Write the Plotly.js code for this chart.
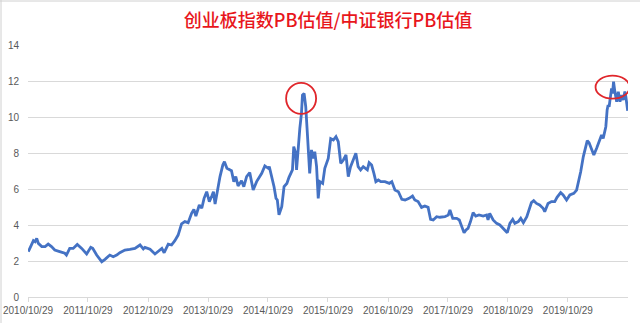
<!DOCTYPE html>
<html><head><meta charset="utf-8">
<script src="https://cdn.plot.ly/plotly-3.0.1.min.js"></script>
<style>html,body{margin:0;padding:0;background:#fff;}#chart{width:640px;height:323px;}</style>
</head><body><div id="chart"></div>
<script>
const chartTitle = "创业板指数PB估值/中证银行PB估值";
const dates = [
"2010-10-31","2010-11-21","2010-12-01","2010-12-11","2010-12-21","2010-12-31","2011-01-21","2011-02-10","2011-03-01","2011-03-21",
"2011-04-10","2011-05-10","2011-06-10","2011-06-20","2011-07-10","2011-07-31","2011-08-25","2011-09-21","2011-10-21","2011-11-15",
"2011-11-27","2011-12-21","2012-01-21","2012-02-10","2012-03-10","2012-03-31","2012-04-21","2012-05-10","2012-06-10","2012-07-10",
"2012-08-10","2012-09-10","2012-09-30","2012-10-10","2012-11-10","2012-12-10","2012-12-31","2013-01-21","2013-02-04","2013-03-01",
"2013-03-21","2013-04-10","2013-04-30","2013-05-21","2013-06-10","2013-06-30","2013-07-21","2013-08-04","2013-08-16","2013-09-06",
"2013-09-21","2013-10-05","2013-10-21","2013-11-06","2013-11-21","2013-12-01","2013-12-11","2013-12-25","2014-01-10","2014-01-27",
"2014-02-06","2014-02-21","2014-03-10","2014-03-21","2014-04-04","2014-04-16","2014-04-30","2014-05-21","2014-06-04","2014-06-21",
"2014-07-10","2014-07-31","2014-08-21","2014-09-21","2014-10-10","2014-10-31","2014-11-06","2014-11-21","2014-12-05","2014-12-17",
"2014-12-25","2015-01-04","2015-01-21","2015-02-04","2015-02-21","2015-03-06","2015-03-17","2015-03-27","2015-04-04","2015-04-16",
"2015-04-21","2015-05-01","2015-05-11","2015-05-21","2015-05-27","2015-06-06","2015-06-16","2015-06-27","2015-07-10","2015-07-21",
"2015-07-31","2015-08-10","2015-08-21","2015-08-31","2015-09-10","2015-09-27","2015-10-10","2015-10-31","2015-11-15","2015-12-01",
"2015-12-17","2015-12-31","2016-01-15","2016-01-31","2016-02-16","2016-03-01","2016-03-15","2016-03-31","2016-04-16","2016-04-30",
"2016-05-15","2016-05-31","2016-06-16","2016-06-25","2016-07-06","2016-07-21","2016-08-04","2016-08-16","2016-08-31","2016-09-15",
"2016-10-10","2016-11-06","2016-11-21","2016-12-10","2016-12-31","2017-01-21","2017-02-10","2017-03-06","2017-03-27","2017-04-10",
"2017-04-30","2017-05-21","2017-06-10","2017-06-30","2017-07-15","2017-07-31","2017-08-21","2017-09-10","2017-10-10","2017-10-31",
"2017-11-10","2017-11-27","2017-12-21","2018-01-06","2018-01-21","2018-02-04","2018-02-16","2018-02-28","2018-03-15","2018-03-31",
"2018-04-16","2018-05-06","2018-05-31","2018-06-21","2018-06-30","2018-07-10","2018-07-31","2018-08-21","2018-09-10","2018-09-30",
"2018-10-25","2018-11-10","2018-11-27","2018-12-10","2018-12-31","2019-01-15","2019-01-31","2019-02-21","2019-03-06","2019-03-21",
"2019-04-04","2019-04-21","2019-05-10","2019-05-31","2019-06-10","2019-06-30","2019-07-21","2019-08-10","2019-08-24","2019-09-15",
"2019-09-30","2019-10-21","2019-11-10","2019-12-04","2019-12-21","2019-12-31","2020-01-15","2020-01-31","2020-02-16","2020-02-24",
"2020-03-06","2020-03-21","2020-04-04","2020-04-21","2020-05-06","2020-05-21","2020-05-31","2020-06-16","2020-06-24","2020-06-30",
"2020-07-06","2020-07-15","2020-07-21","2020-07-27","2020-08-02","2020-08-10","2020-08-21","2020-08-31","2020-09-10","2020-09-21",
"2020-09-30","2020-10-10","2020-10-16","2020-10-27"
];
const pbRatio = [
2.52,2.89,3.13,3.07,3.26,2.98,2.80,2.80,2.94,2.80,
2.61,2.52,2.43,2.33,2.70,2.70,2.92,2.70,2.39,2.76,
2.70,2.33,1.96,2.09,2.33,2.24,2.33,2.46,2.61,2.65,
2.70,2.89,2.67,2.76,2.65,2.39,2.52,2.70,2.46,2.94,
2.89,3.13,3.44,4.06,4.19,4.13,4.65,4.87,4.50,5.11,
4.93,5.48,5.85,5.30,5.61,5.85,5.17,5.94,6.69,7.33,
7.52,7.15,7.09,7.02,6.41,6.69,6.17,6.46,6.13,6.69,
6.91,5.94,6.41,6.87,7.28,7.15,7.24,6.72,6.13,5.48,
5.39,4.56,5.02,6.13,6.31,6.65,6.87,7.06,8.35,7.98,
7.06,8.35,9.37,10.20,11.22,11.31,10.57,8.91,6.87,8.17,
7.70,8.07,7.24,5.48,6.41,6.31,7.15,7.70,8.80,8.72,
8.91,8.63,7.43,7.61,7.89,6.69,7.24,7.61,7.98,7.24,
7.06,7.24,7.09,7.06,7.46,7.33,6.87,6.41,6.50,6.41,
6.41,6.31,6.41,5.94,5.85,5.43,5.39,5.48,5.61,5.39,
5.30,4.98,5.06,4.98,4.31,4.28,4.46,4.43,4.46,4.56,
4.83,4.37,4.37,4.28,3.91,3.57,3.72,3.81,4.19,4.69,
4.50,4.56,4.50,4.56,4.28,4.65,4.28,4.09,4.00,3.81,
3.57,4.09,4.31,4.09,4.19,4.37,4.13,4.46,4.83,5.24,
5.35,5.20,5.11,4.93,4.74,5.20,5.30,5.30,5.54,5.80,
5.67,5.39,5.67,5.76,5.94,6.31,6.96,7.80,8.44,8.69,
8.57,8.17,7.89,8.26,8.63,9.00,8.81,9.46,10.39,10.67,
10.57,11.31,11.59,11.31,11.96,11.41,10.85,11.41,10.85,11.22,
10.94,11.41,11.13,10.35
];
const tickDates = ["2010-10-29","2011-10-29","2012-10-29","2013-10-29","2014-10-29","2015-10-29","2016-10-29","2017-10-29","2018-10-29","2019-10-29"];
const tickLabels = ["2010/10/29","2011/10/29","2012/10/29","2013/10/29","2014/10/29","2015/10/29","2016/10/29","2017/10/29","2018/10/29","2019/10/29"];
const xRange = ["2010-10-29","2020-10-29"];

// circle the 2015 peak and the overall peak
function peakIndex(before) {
  let best = -1;
  for (let i = 0; i < dates.length; i++) {
    if (before && dates[i] >= before) continue;
    if (best < 0 || pbRatio[i] > pbRatio[best]) best = i;
  }
  return best;
}
const p1 = peakIndex("2016-01-01");
const p2 = peakIndex(null);
function circle(i, rx, ry, dx, dy) {
  return {
    type: "circle", xref: "x", yref: "y",
    xsizemode: "pixel", ysizemode: "pixel",
    xanchor: dates[i], yanchor: pbRatio[i],
    x0: dx - rx, x1: dx + rx, y0: dy - ry, y1: dy + ry,
    line: {color: "#e0262b", width: 1.8}, fillcolor: "rgba(0,0,0,0)"
  };
}

const trace = {
  x: dates, y: pbRatio, type: "scatter", mode: "lines",
  line: {color: "#4472C4", width: 2.8, shape: "linear"},
  hoverinfo: "skip"
};

const layout = {
  width: 640, height: 323,
  margin: {l: 28, r: 12, t: 45, b: 26, pad: 0},
  paper_bgcolor: "#ffffff", plot_bgcolor: "#ffffff",
  showlegend: false,
  title: {
    text: chartTitle, x: 0.5, xref: "paper", xanchor: "center",
    y: 0.935, yanchor: "middle",
    font: {family: "Noto Sans CJK SC", size: 18, color: "#e8161c", weight: 500}
  },
  font: {family: "Liberation Sans, Arial, sans-serif", size: 10, color: "#595959"},
  xaxis: {
    type: "date", range: xRange,
    tickmode: "array", tickvals: tickDates, ticktext: tickLabels,
    tickangle: 0,
    showgrid: false, zeroline: false,
    showline: true, linecolor: "#d9d9d9", linewidth: 1,
    ticks: "outside", ticklen: 4, tickcolor: "#d9d9d9",
    tickfont: {size: 10, color: "#595959"}
  },
  yaxis: {
    range: [0, 14], tickmode: "linear", tick0: 0, dtick: 2,
    showgrid: true, gridcolor: "#d9d9d9", gridwidth: 1,
    zeroline: false, showline: false, ticks: "",
    ticklabelstandoff: 8,
    tickfont: {size: 10, color: "#595959"}
  },
  shapes: [
    circle(p1, 15, 15.5, -3, -5),
    circle(p2, 17, 11.5, -1, -5.5),
    {type: "line", xref: "paper", yref: "paper", x0: -28/600, x1: 1 + 12/600, y0: 1 + 44/252, y1: 1 + 44/252,
     line: {color: "#d0d0d0", width: 1}},
    {type: "line", xref: "paper", yref: "paper", x0: -27/600, x1: -27/600, y0: -26/252, y1: 1 + 45/252,
     line: {color: "#d0d0d0", width: 1}}
  ]
};

Plotly.newPlot("chart", [trace], layout, {staticPlot: true, displayModeBar: false});
</script>
</body></html>
